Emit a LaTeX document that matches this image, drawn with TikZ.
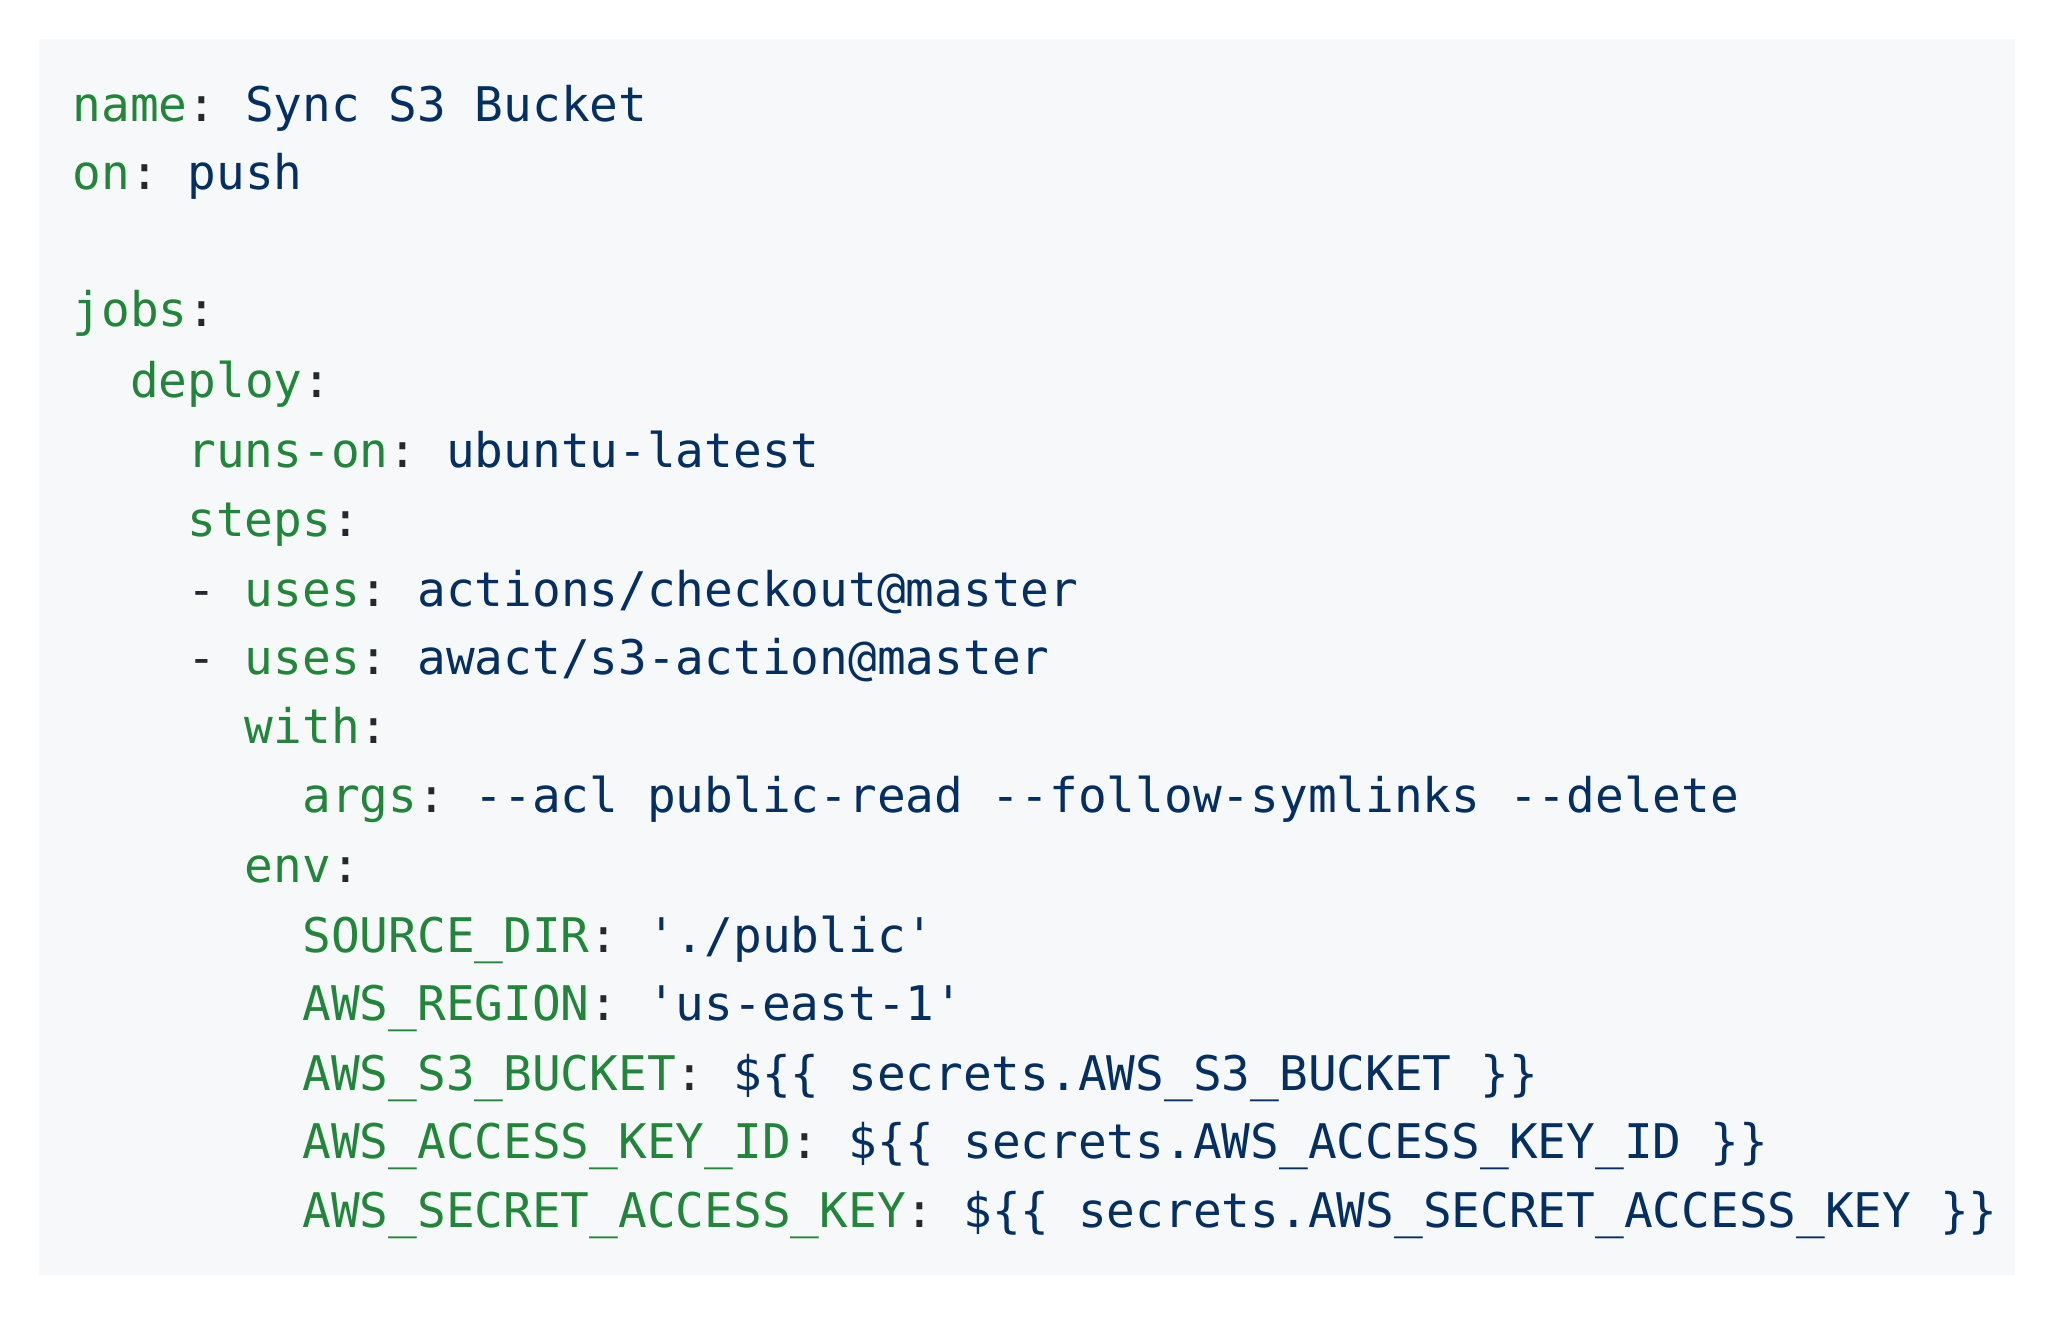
\documentclass[tikz,border=0pt]{standalone}
\usepackage{fontspec}
\setmonofont{DejaVu Sans Mono}
\definecolor{bgc}{HTML}{F6F8FA}
\definecolor{keyc}{HTML}{22863A}
\definecolor{valc}{HTML}{032F62}
\definecolor{punc}{HTML}{24292E}
\newcommand\Kx[1]{\textcolor{keyc}{#1}}
\newcommand\Vx[1]{\textcolor{valc}{#1}}
\begin{document}
\begin{tikzpicture}[x=0.5pt,y=-0.5pt,
  codeline/.style={anchor=mid west,inner sep=0pt,yshift=-4pt,font=\ttfamily\fontsize{18.2}{20}\selectfont,text=punc}]
\useasboundingbox (0,0) rectangle (1568,1006.7);
\fill[white] (0,0) rectangle (1568,1006.7);
\fill[bgc] (30,30) rectangle (1537,972);
\def\cw{21.9}
\node[codeline] (l1) at (55,80) {\Kx{name}: \Vx{Sync S3 Bucket}};
\node[codeline] (l2) at (55,132) {\Kx{on}: \Vx{push}};
\node[codeline] (l3) at (55,237) {\Kx{jobs}:};
\node[codeline] (l4) at (55+2*\cw,291) {\Kx{deploy}:};
\node[codeline] (l5) at (55+4*\cw,344) {\Kx{runs-on}: \Vx{ubuntu-latest}};
\node[codeline] (l6) at (55+4*\cw,397) {\Kx{steps}:};
\node[codeline] (l7) at (55+4*\cw,450) {- \Kx{uses}: \Vx{actions/checkout@master}};
\node[codeline] (l8) at (55+4*\cw,502) {- \Kx{uses}: \Vx{awact/s3-action@master}};
\node[codeline] (l9) at (55+6*\cw,555) {\Kx{with}:};
\node[codeline] (l10) at (55+8*\cw,607) {\Kx{args}: \Vx{--acl public-read --follow-symlinks --delete}};
\node[codeline] (l11) at (55+6*\cw,661) {\Kx{env}:};
\node[codeline] (l12) at (55+8*\cw,714) {\Kx{SOURCE\_DIR}: \Vx{\char39./public\char39}};
\node[codeline] (l13) at (55+8*\cw,766) {\Kx{AWS\_REGION}: \Vx{\char39us-east-1\char39}};
\node[codeline] (l14) at (55+8*\cw,819) {\Kx{AWS\_S3\_BUCKET}: \Vx{\$\{\{ secrets.AWS\_S3\_BUCKET \}\}}};
\node[codeline] (l15) at (55+8*\cw,871) {\Kx{AWS\_ACCESS\_KEY\_ID}: \Vx{\$\{\{ secrets.AWS\_ACCESS\_KEY\_ID \}\}}};
\node[codeline] (l16) at (55+8*\cw,924) {\Kx{AWS\_SECRET\_ACCESS\_KEY}: \Vx{\$\{\{ secrets.AWS\_SECRET\_ACCESS\_KEY \}\}}};
\end{tikzpicture}
\end{document}
